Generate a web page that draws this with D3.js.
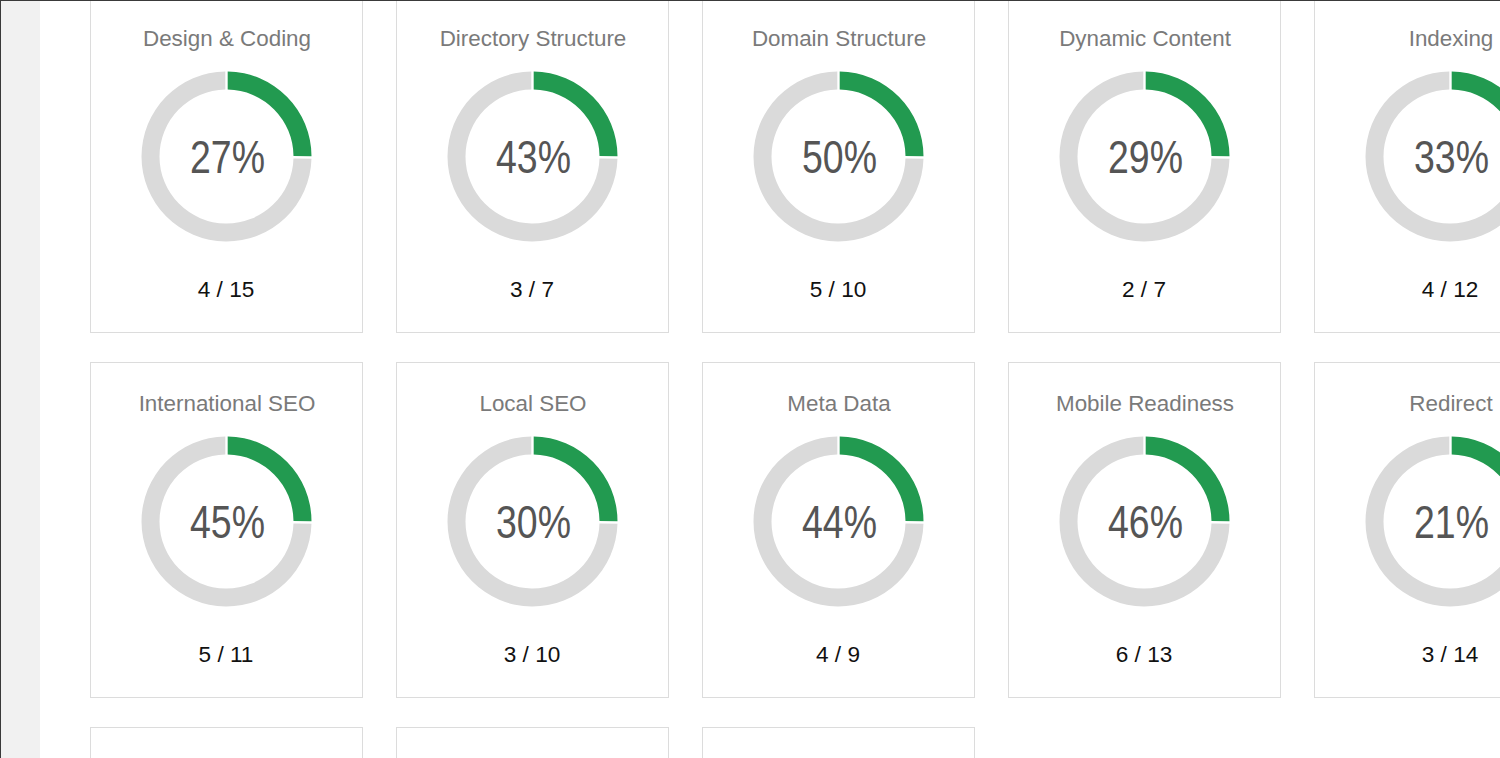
<!DOCTYPE html>
<html>
<head>
<meta charset="utf-8">
<script src="https://cdn.jsdelivr.net/npm/d3@7"></script>
<style>
  html, body { margin: 0; padding: 0; background: #fff; overflow: hidden; }
  svg { display: block; }
</style>
</head>
<body>
<svg id="chart" width="1500" height="758"></svg>
<script>
// ---- data ----
const categories = [
  "Design & Coding", "Directory Structure", "Domain Structure", "Dynamic Content", "Indexing",
  "International SEO", "Local SEO", "Meta Data", "Mobile Readiness", "Redirect",
  "", "", ""
];
const passed = [4, 3, 5, 2, 4, 5, 3, 4, 6, 3, null, null, null];
const total  = [15, 7, 10, 7, 12, 11, 10, 9, 13, 14, null, null, null];
const percentLabels = ["27%", "43%", "50%", "29%", "33%", "45%", "30%", "44%", "46%", "21%", "", "", ""];
// share of the ring drawn green, as it appears in the picture
const filledShare = [0.25, 0.25, 0.25, 0.25, 0.25, 0.25, 0.25, 0.25, 0.25, 0.25, null, null, null];

// ---- layout ----
const W = 1500, H = 758;
const cols = 5;
const cardW = 272, cardH = 335;
const colScale = d3.scaleLinear().domain([0, 1]).range([90.5, 396.5]);
const rowScale = d3.scaleLinear().domain([0, 1]).range([-2.5, 362.5]);

const svg = d3.select("#chart");

// page background pieces
svg.append("rect").attr("x", 0).attr("y", 0).attr("width", W).attr("height", H).attr("fill", "#fff");
svg.append("rect").attr("x", 1).attr("y", 0).attr("width", 39).attr("height", H).attr("fill", "#f1f1f1");

const outerR = 85, innerR = 67;
const arc = d3.arc().innerRadius(innerR).outerRadius(outerR);
const pie = d3.pie().sort(null).value(d => d).padAngle(0.022);

const cards = svg.selectAll("g.card")
  .data(categories.map((c, i) => ({
    name: c, passed: passed[i], total: total[i], pct: percentLabels[i], share: filledShare[i],
    col: i % cols, row: Math.floor(i / cols)
  })))
  .join("g")
  .attr("class", "card")
  .attr("transform", d => `translate(${colScale(d.col)},${rowScale(d.row)})`);

cards.append("rect")
  .attr("width", cardW).attr("height", cardH)
  .attr("fill", "#fff").attr("stroke", "#dcdcdc").attr("stroke-width", 1);

const filled = cards.filter(d => d.share != null);

filled.append("text")
  .attr("x", cardW / 2 + 0.5).attr("y", 48.5)
  .attr("text-anchor", "middle")
  .attr("font-family", "Arial, 'Liberation Sans', sans-serif")
  .attr("font-size", 22.4)
  .attr("fill", "#7a7a7a")
  .text(d => d.name);

const donut = filled.append("g")
  .attr("transform", `translate(${cardW / 2},${159})`);

donut.selectAll("path")
  .data(d => pie([d.share, 1 - d.share]))
  .join("path")
  .attr("d", arc)
  .attr("fill", (d, i) => i === 0 ? "#229a50" : "#dadada");

donut.append("text")
  .attr("class", "pct")
  .attr("x", 1).attr("y", 16.5)
  .attr("text-anchor", "middle")
  .attr("font-family", "'Liberation Sans Narrow', 'Arial Narrow', Arial, sans-serif")
  .attr("font-size", 46.5)
  .attr("fill", "#555")
  .text(d => d.pct);

filled.append("text")
  .attr("x", cardW / 2 - 0.5).attr("y", 299.5)
  .attr("text-anchor", "middle")
  .attr("font-family", "Arial, 'Liberation Sans', sans-serif")
  .attr("font-size", 22.6)
  .attr("fill", "#111")
  .text(d => `${d.passed} / ${d.total}`);

// make the percent text narrow if a narrow face is missing
svg.selectAll("text.pct").each(function () {
  const w = this.getComputedTextLength();
  const target = 75;
  if (w > target * 1.1) {
    d3.select(this).attr("textLength", target).attr("lengthAdjust", "spacingAndGlyphs");
  }
});

// page frame lines
svg.append("line").attr("x1", 0).attr("x2", W).attr("y1", 0.5).attr("y2", 0.5).attr("stroke", "#3a3a3a").attr("stroke-width", 1);
svg.append("line").attr("x1", 0.5).attr("x2", 0.5).attr("y1", 0).attr("y2", H).attr("stroke", "#3a3a3a").attr("stroke-width", 1);
</script>
</body>
</html>
